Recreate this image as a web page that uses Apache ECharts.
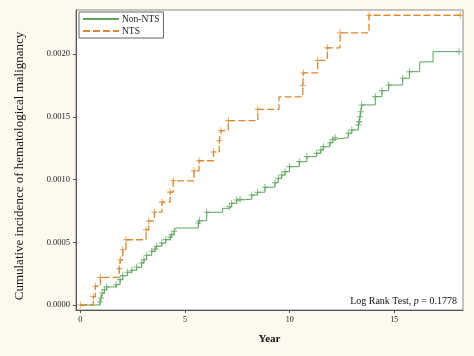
<!DOCTYPE html>
<html><head><meta charset="utf-8">
<script src="https://cdn.jsdelivr.net/npm/echarts@6/dist/echarts.min.js"></script>
<style>html,body{margin:0;padding:0;background:#fdf9ef;}#c{width:474px;height:356px;}</style>
</head><body><div id="c"></div>
<script>
// Non-NTS cumulative incidence (step points)
var nonNtsTime = [0, 0.94, 0.99, 1.05, 1.15, 1.26, 1.71, 1.90, 2.03, 2.25, 2.46, 2.69, 2.93, 3.04, 3.17, 3.41, 3.57, 3.65, 3.89, 4.08, 4.29, 4.37, 4.48, 4.57, 5.64, 5.69, 6.04, 6.80, 7.12, 7.23, 7.47, 7.63, 8.19, 8.46, 8.82, 9.30, 9.46, 9.62, 9.78, 9.99, 10.46, 10.82, 11.29, 11.49, 11.61, 11.93, 12.06, 12.17, 12.80, 12.97, 13.28, 13.32, 13.36, 13.40, 13.44, 14.09, 14.41, 14.73, 15.40, 15.72, 16.21, 16.85, 18.09];
var nonNtsCum = [0, 0.000024, 0.000056, 0.000096, 0.000122, 0.000144, 0.000162, 0.000202, 0.000234, 0.000261, 0.000277, 0.000301, 0.000335, 0.000361, 0.000396, 0.000428, 0.000447, 0.000468, 0.000494, 0.000521, 0.000540, 0.000561, 0.000588, 0.000614, 0.000654, 0.000672, 0.000739, 0.000771, 0.000784, 0.000811, 0.000837, 0.000843, 0.000877, 0.000899, 0.000939, 0.000975, 0.001010, 0.001037, 0.001063, 0.001103, 0.001143, 0.001183, 0.001210, 0.001236, 0.001262, 0.001294, 0.001321, 0.001334, 0.001369, 0.001395, 0.001435, 0.001462, 0.001501, 0.001541, 0.001595, 0.001661, 0.001709, 0.001754, 0.001808, 0.001860, 0.001938, 0.002020, 0.002020];
var nonNtsCensor = [0,1,1,1,1,1,1,1,1,1,1,1,1,1,1,1,1,1,1,1,1,1,1,0,1,1,1,0,1,1,1,1,1,1,1,1,1,1,1,1,1,1,1,1,1,1,1,1,1,1,1,1,1,1,1,1,1,1,1,1,0,0,1];
// NTS cumulative incidence (step points)
var ntsTime = [0, 0.62, 0.72, 0.96, 1.86, 1.91, 2.03, 2.18, 3.14, 3.27, 3.54, 3.90, 4.29, 4.44, 5.43, 5.67, 6.36, 6.64, 6.72, 7.07, 8.48, 9.49, 10.63, 10.65, 11.34, 11.80, 12.41, 13.79, 18.15];
var ntsCum = [0, 0.000066, 0.000150, 0.000220, 0.000290, 0.000360, 0.000440, 0.000520, 0.000600, 0.000670, 0.000740, 0.000820, 0.000900, 0.000990, 0.001070, 0.001150, 0.001220, 0.001310, 0.001390, 0.001470, 0.001560, 0.001660, 0.001750, 0.001850, 0.001950, 0.002050, 0.002170, 0.002310, 0.002310];
var ntsCensor = [1,1,1,1,1,1,1,1,1,1,1,1,1,1,1,1,1,1,1,1,1,0,1,1,1,1,1,1,1];
var xTicks = [0, 5, 10, 15];
var yTicks = [0, 0.0005, 0.0010, 0.0015, 0.0020];

var GREEN = '#5aa65a', ORANGE = '#d98a2c';
var SERIF = "'Liberation Serif','DejaVu Serif',serif";
function pairs(t, v) { return t.map(function (x, i) { return [x, v[i]]; }); }
function marks(t, v, c) { return pairs(t, v).filter(function (p, i) { return c[i]; }); }
var plus = 'path://M5,0L5,10M0,5L10,5';

var chart = echarts.init(document.getElementById('c'), null, {renderer: 'canvas'});
chart.setOption({
  animation: false,
  backgroundColor: '#fdf9ef',
  textStyle: {fontFamily: SERIF},
  grid: {left: 76, top: 10, right: 11, bottom: 46, show: true, backgroundColor: '#ffffff', borderColor: '#8a8a8a', borderWidth: 1},
  legend: {
    data: ['Non-NTS', 'NTS'], orient: 'vertical', left: 79, top: 12,
    itemWidth: 36, itemHeight: 9, itemGap: 2, padding: [2, 4, 2, 3],
    borderColor: '#666', borderWidth: 1, backgroundColor: '#fff',
    itemStyle: {color: 'rgba(0,0,0,0)', borderWidth: 0, borderColor: 'rgba(0,0,0,0)'},
    textStyle: {fontFamily: SERIF, fontSize: 9.5, color: '#222', padding: [0, 0, 0, -2]}
  },
  xAxis: {
    type: 'value', min: -0.205, max: 18.28,
    name: 'Year', nameLocation: 'middle', nameGap: 24,
    nameTextStyle: {fontFamily: SERIF, fontSize: 11, fontWeight: 'bold', color: '#111'},
    axisLine: {show: true, onZero: false, lineStyle: {color: '#555', width: 1}},
    axisTick: {show: true, customValues: xTicks, length: 3, lineStyle: {color: '#555'}},
    axisLabel: {show: true, customValues: xTicks, fontFamily: SERIF, fontSize: 8, color: '#222', margin: 6},
    splitLine: {show: false}
  },
  yAxis: {
    type: 'value', min: -0.00004, max: 0.002352,
    axisLine: {show: true, onZero: false, lineStyle: {color: '#555', width: 1}},
    axisTick: {show: true, customValues: yTicks, length: 3, lineStyle: {color: '#555'}},
    axisLabel: {show: true, customValues: yTicks, fontFamily: SERIF, fontSize: 8.5, color: '#222', margin: 6,
      formatter: function (v) { return v.toFixed(4); }},
    splitLine: {show: false}
  },
  graphic: [
    {type: 'text', x: 20, y: 166, rotation: Math.PI / 2,
      style: {text: 'Cumulative incidence of hematological malignancy', font: '13px ' + SERIF, fill: '#111', align: 'center', verticalAlign: 'middle'}},
    {type: 'text', x: 457, y: 301, z: 10,
      style: {text: '{a|Log Rank Test, }{i|p}{a| = 0.1778}', align: 'right', verticalAlign: 'middle',
        rich: {a: {fontFamily: SERIF, fontSize: 10, fill: '#111'}, i: {fontFamily: SERIF, fontSize: 10, fontStyle: 'italic', fill: '#111'}}}}
  ],
  series: [
    {name: 'Non-NTS', type: 'line', step: 'end', data: pairs(nonNtsTime, nonNtsCum), symbol: 'none',
      lineStyle: {color: GREEN, width: 1}, itemStyle: {color: GREEN}, z: 3},
    {name: 'NTS', type: 'line', step: 'end', data: pairs(ntsTime, ntsCum), symbol: 'none',
      lineStyle: {color: ORANGE, width: 1.3, type: [7, 3]}, itemStyle: {color: ORANGE}, z: 4},
    {name: 'nonNtsMarks', type: 'scatter', data: marks(nonNtsTime, nonNtsCum, nonNtsCensor), symbol: plus, symbolSize: [6, 7],
      itemStyle: {color: 'transparent', borderColor: GREEN, borderWidth: 1}, z: 3, silent: true},
    {name: 'ntsMarks', type: 'scatter', data: marks(ntsTime, ntsCum, ntsCensor), symbol: plus, symbolSize: [6, 7],
      itemStyle: {color: 'transparent', borderColor: ORANGE, borderWidth: 1}, z: 4, silent: true}
  ]
});
</script></body></html>
